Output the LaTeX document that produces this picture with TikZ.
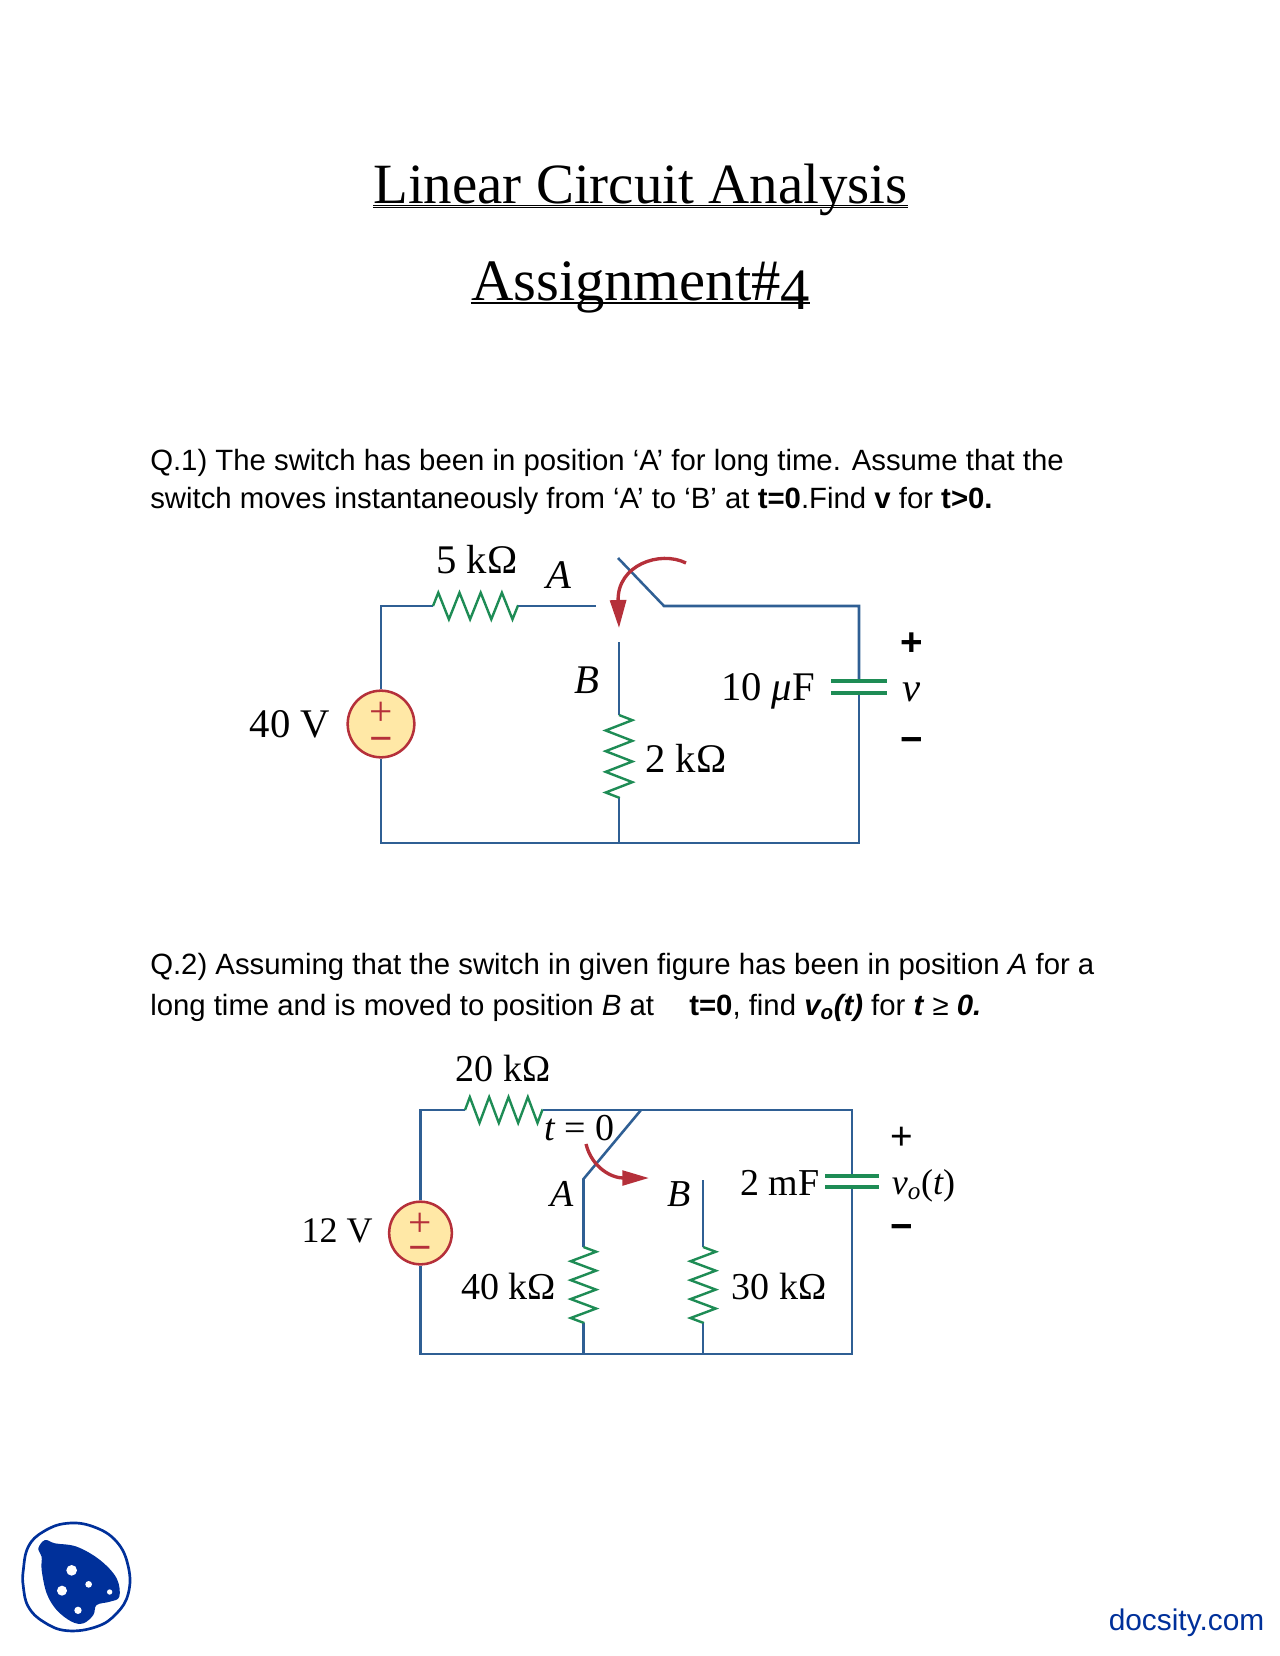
\documentclass[tikz,border=0pt]{standalone}
\usepackage{fontspec}
\setmainfont{Liberation Serif}
\setsansfont{Liberation Sans}
\usetikzlibrary{arrows.meta, decorations.pathmorphing}
\definecolor{wireblue}{HTML}{2F5F94}
\definecolor{resgreen}{HTML}{1E8C55}
\definecolor{arrowred}{HTML}{B5303A}
\definecolor{srcfill}{HTML}{FFE8A6}
\definecolor{logoblue}{HTML}{00309A}
\tikzset{
  wire/.style={draw=wireblue, line width=1.9pt},
  resistor/.style 2 args={draw=resgreen, line width=1.8pt, decorate, decoration={zigzag, segment length=#1, amplitude=#2, pre length=0pt, post length=0pt}},
  plate/.style={draw=resgreen, line width=3pt},
  source/.style={circle, draw=arrowred, line width=1.9pt, fill=srcfill, inner sep=0pt},
  swing/.style={draw=arrowred, line width=2.5pt},
  label/.style={inner sep=0pt, font=\fontsize{28.5}{30}\selectfont},
  biglabel/.style={inner sep=0pt, font=\fontsize{30.5}{32}\selectfont},
  polarity/.style={inner sep=0pt, text=arrowred, font=\fontsize{31}{31}\selectfont},
  sign/.style={inner sep=0pt, font=\sffamily\bfseries\fontsize{29}{29}\selectfont},
  question/.style={inner sep=0pt, anchor=base west, font=\sffamily\fontsize{22}{24}\selectfont},
  titleline/.style={inner sep=0pt, anchor=base}
}
\begin{document}
\begin{tikzpicture}[x=0.75pt, y=-0.75pt]
  \useasboundingbox (0,0) rectangle (1280,1656);

  % heading
  \node[titleline, font=\fontsize{42.7}{45}\selectfont] (title_a) at (640.5,203) {Linear Circuit Analysis};
  \node[titleline, font=\fontsize{44}{45}\selectfont] (title_b) at (640.5,300) {Assignment\#\raisebox{-0.16em}{4}};
  \draw[line width=0.9pt] ([yshift=-1.6pt]title_a.base west) -- ([yshift=-1.6pt]title_a.base east);
  \draw[line width=0.9pt] ([yshift=-3.6pt]title_a.base west) -- ([yshift=-3.6pt]title_a.base east);
  \draw[line width=1.8pt] ([yshift=-2.4pt]title_b.base west) -- ([yshift=-2.4pt]title_b.base east);

  % question 1
  \node[question] (q1_a) at (150,470) {Q.1) The switch has been in position ‘A’ for long time. Assume that the};
  \node[question] (q1_b) at (150,508) {switch moves instantaneously from ‘A’ to ‘B’ at \textbf{t=0}.Find \textbf{v} for \textbf{t>0.}};

  % first circuit
  \coordinate (c1_tl) at (381,606);
  \coordinate (c1_bl) at (381,843);
  \coordinate (c1_tr) at (859,606);
  \coordinate (c1_br) at (859,843);
  \coordinate (c1_ra) at (433,606);
  \coordinate (c1_rb) at (518,606);
  \coordinate (c1_a) at (596,606);
  \coordinate (c1_hinge) at (664,606);
  \coordinate (c1_blade) at (618,558);
  \coordinate (c1_b) at (619,642);
  \coordinate (c1_rc) at (619,715);
  \coordinate (c1_rd) at (619,798);
  \coordinate (c1_bm) at (619,843);
  \coordinate (c1_pa) at (859,681);
  \coordinate (c1_pb) at (859,693);
  \node[source, minimum size=50pt] (vs_40) at (381,724) {};
  \node[polarity] (vs_40_p) at (381,714) {+};
  \node[polarity, font=\bfseries\fontsize{31}{31}\selectfont] (vs_40_m) at (381,745) {−};
  \draw[wire] (vs_40) -- (c1_tl) -- (c1_ra);
  \draw[wire] (c1_rb) -- (c1_a);
  \draw[wire] (c1_blade) -- (c1_hinge) -- (c1_tr) -- (c1_pa);
  \draw[wire] (c1_pb) -- (c1_br) -- (c1_bl) -- (vs_40);
  \draw[wire] (c1_b) -- (c1_rc);
  \draw[wire] (c1_rd) -- (c1_bm);
  \draw[resistor={15.9pt}{10pt}] (c1_ra) -- (c1_rb);
  \draw[resistor={15.5pt}{10pt}] (c1_rc) -- (c1_rd);
  \draw[plate] ([xshift=-21pt]c1_pa) -- ([xshift=21pt]c1_pa);
  \draw[plate] ([xshift=-21pt]c1_pb) -- ([xshift=21pt]c1_pb);
  \draw[swing, -{Triangle[length=21pt,width=12pt]}] (686,563) .. controls (660,550) and (617,565) .. (619,628);
  \node[biglabel] (lab_5k) at (477,560) {5 kΩ};
  \node[biglabel] (lab_a1) at (559,575) {\itshape A};
  \node[biglabel] (lab_b1) at (587,680) {\itshape B};
  \node[biglabel] (lab_10u) at (768,691) {10 {\itshape μ}F};
  \node[biglabel] (lab_v) at (912,692) {\itshape v};
  \node[biglabel] (lab_2k) at (686,758) {2 kΩ};
  \node[biglabel] (lab_40v) at (290,724) {40 V};
  \node[sign] (v_p) at (912,644) {+};
  \node[sign] (v_m) at (912,745) {−};

  % question 2
  \node[question] (q2_a) at (150,974) {Q.2) Assuming that the switch in given figure has been in position \textit{A} for a};
  \node[question] (q2_b) at (150,1015) {long time and is moved to position \textit{B} at\hspace{1.2em}\textbf{t=0}, find \textbf{\textit{v\textsubscript{o}(t)}} for \textbf{\textit{t}} ≥ \textbf{\textit{0.}}};

  % second circuit
  \coordinate (c2_tl) at (420.5,1110);
  \coordinate (c2_bl) at (420.5,1354);
  \coordinate (c2_tr) at (852,1110);
  \coordinate (c2_br) at (852,1354);
  \coordinate (c2_ra) at (465,1110);
  \coordinate (c2_rb) at (542.5,1110);
  \coordinate (c2_hinge) at (583.5,1179);
  \coordinate (c2_blade) at (641,1110);
  \coordinate (c2_rc) at (583.5,1247);
  \coordinate (c2_rd) at (583.5,1323);
  \coordinate (c2_bm) at (583.5,1354);
  \coordinate (c2_b) at (703,1180);
  \coordinate (c2_re) at (703,1247);
  \coordinate (c2_rf) at (703,1323);
  \coordinate (c2_bn) at (703,1354);
  \coordinate (c2_pa) at (852,1176);
  \coordinate (c2_pb) at (852,1187);
  \node[source, minimum size=47pt] (vs_12) at (420.5,1233) {};
  \node[polarity] (vs_12_p) at (420.5,1225) {+};
  \node[polarity, font=\bfseries\fontsize{31}{31}\selectfont] (vs_12_m) at (420.5,1254) {−};
  \draw[wire] (vs_12) -- (c2_tl) -- (c2_ra);
  \draw[wire] (c2_rb) -- (c2_tr) -- (c2_pa);
  \draw[wire] (c2_pb) -- (c2_br) -- (c2_bl) -- (vs_12);
  \draw[wire] (c2_blade) -- (c2_hinge) -- (c2_rc);
  \draw[wire] (c2_rd) -- (c2_bm);
  \draw[wire] (c2_b) -- (c2_re);
  \draw[wire] (c2_rf) -- (c2_bn);
  \draw[resistor={14.5pt}{9.7pt}] (c2_ra) -- (c2_rb);
  \draw[resistor={14.2pt}{9.5pt}] (c2_rc) -- (c2_rd);
  \draw[resistor={14.2pt}{9.5pt}] (c2_re) -- (c2_rf);
  \draw[plate] ([xshift=-20pt]c2_pa) -- ([xshift=20pt]c2_pa);
  \draw[plate] ([xshift=-20pt]c2_pb) -- ([xshift=20pt]c2_pb);
  \draw[swing, -{Triangle[length=20pt,width=11pt]}] (586,1144) .. controls (592,1168) and (612,1178) .. (649,1178);
  \node[label] (lab_20k) at (503,1068) {20 kΩ};
  \node[label] (lab_t0) at (579,1128) {{\itshape t} = 0};
  \node[label] (lab_a2) at (562,1194) {\itshape A};
  \node[label] (lab_b2) at (679,1194) {\itshape B};
  \node[label] (lab_2m) at (780,1183) {2 mF};
  \node[inner sep=0pt, font=\fontsize{27}{30}\selectfont] (lab_vo) at (923.5,1186) {{\itshape v\textsubscript{o}}({\itshape t})};
  \node[inner sep=0pt, font=\fontsize{27}{30}\selectfont] (lab_12v) at (337,1231) {12 V};
  \node[label] (lab_40k) at (508.5,1286) {40 kΩ};
  \node[label] (lab_30k) at (779,1286) {30 kΩ};
  \node[sign, font=\sffamily\fontsize{29}{29}\selectfont] (vo_p) at (901.5,1138) {+};
  \node[sign] (vo_m) at (901.5,1232) {−};

  % page mark
  \begin{scope}[shift={(0,1490)}, scale=0.3333]
    \draw[logoblue, line width=2pt] plot[smooth cycle, tension=.7] coordinates {(70,240) (85,170) (130,125) (200,100) (280,110) (350,155) (385,230) (385,310) (350,370) (290,410) (200,422) (130,395) (85,350) (70,290)};
    \fill[logoblue] plot[smooth cycle, tension=.6] coordinates {(115,175) (135,150) (165,160) (230,170) (300,210) (350,265) (358,320) (330,335) (290,345) (280,375) (250,400) (215,395) (170,360) (140,310) (125,240) (125,200)};
    \foreach \px/\py/\pr in {215/241/16, 186/302/15, 266/283/10, 329/306/8, 234/361/11}
      \fill[white] (\px,\py) circle (\pr);
  \end{scope}
  \node[inner sep=0pt, anchor=base west, text=logoblue, font=\sffamily\fontsize{22.4}{22}\selectfont] (mark) at (1108.5,1630) {docsity.com};
\end{tikzpicture}
\end{document}
